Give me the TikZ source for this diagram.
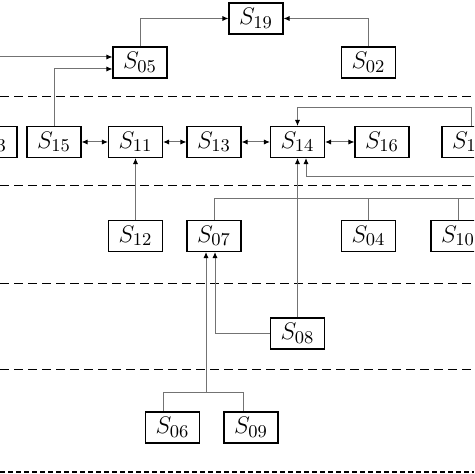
\documentclass[tikz,border=0pt]{standalone}
\usetikzlibrary{calc,arrows.meta}
\begin{document}
\begin{tikzpicture}[x=0.5pt,y=-0.5pt,>={Latex[length=3pt,width=2.6pt,color=black]},
  blk/.style={draw,line width=0.55pt,fill=white,minimum width=27pt,minimum height=15.5pt,inner sep=0pt,font=\fontsize{12.5}{14}\selectfont},
  ln/.style={draw=black!55,line width=0.5pt},
  sep/.style={line width=0.5pt,dash pattern=on 4.5pt off 2.5pt}]
\useasboundingbox (0,0) rectangle (474,474);
\clip (0,0) rectangle (474,474);
%
\foreach \y in {97,186,284,369}
  \draw[sep] (0,\y) -- (474,\y);
\draw[line width=0.6pt,dash pattern=on 2.5pt off 1.5pt] (0,472) -- (474,472);
%
\node[blk] (s19) at (256,18.5) {$S_{19}$};
\node[blk] (s05) at (140,62.5) {$S_{05}$};
\node[blk] (s02) at (368.5,62.5) {$S_{02}$};
%
\node[blk] (s03) at (-10,142) {$S_{03}$};
\node[blk] (s15) at (54,142) {$S_{15}$};
\node[blk] (s11) at (135.5,142) {$S_{11}$};
\node[blk] (s13) at (214,142) {$S_{13}$};
\node[blk] (s14) at (297.5,142) {$S_{14}$};
\node[blk] (s16) at (382,142) {$S_{16}$};
\node[blk] (s17) at (469,142) {$S_{17}$};
%
\node[blk] (s12) at (135.5,236) {$S_{12}$};
\node[blk] (s07) at (214,236) {$S_{07}$};
\node[blk] (s04) at (368.5,236) {$S_{04}$};
\node[blk] (s10) at (458,236) {$S_{10}$};
%
\node[blk] (s08) at (297.5,333.5) {$S_{08}$};
\node[blk] (s06) at (172.5,427.5) {$S_{06}$};
\node[blk] (s09) at (251,427.5) {$S_{09}$};
%
\coordinate (inL) at (0,57);
\coordinate (inR) at (474,177);
\coordinate (top14) at (297.5,108);
\coordinate (bus) at (474,199);
\coordinate (j07) at (206,392);
\coordinate (j06) at (163,392);
\coordinate (j09) at (243,392);
%
\draw[ln,->] (s05.north) |- (s19.west);
\draw[ln,->] (s02.north) |- (s19.east);
\draw[ln,->] (inL) -- (inL -| s05.west);
\draw[ln,->] (s15.north) |- ($(s05.west)+(0,6.5)$);
%
\draw[ln,<->] (s15) -- (s11);
\draw[ln,<->] (s11) -- (s13);
\draw[ln,<->] (s13) -- (s14);
\draw[ln,<->] (s14) -- (s16);
\draw[ln,->] ($(s17.north)+(2,0)$) |- (top14) -- (s14.north);
\draw[ln,->] (inR) -| ($(s14.south)+(8.5,0)$);
\draw[ln,->] (s12) -- (s11);
%
\draw[ln] (s07.north) |- (bus);
\draw[ln] (s04.north) -- (s04.north |- bus);
\draw[ln] (s10.north) -- (s10.north |- bus);
\draw[ln,->] (s08.north) -- (s14.south);
%
\draw[ln,->] (s08.west) -| ($(s07.south)+(1,0)$);
\draw[ln,->] (j07) -- (j07 |- s07.south);
\draw[ln] (j06) -- (j09);
\draw[ln] (j06) -- (j06 |- s06.north);
\draw[ln] (j09) -- (j09 |- s09.north);
\end{tikzpicture}
\end{document}
